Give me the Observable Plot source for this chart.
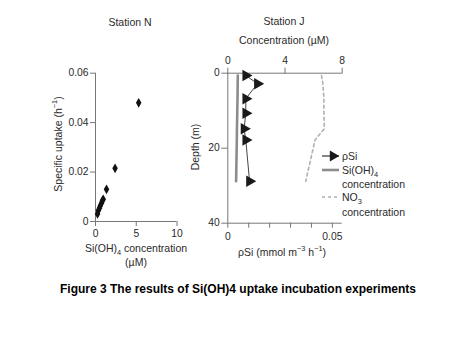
<!DOCTYPE html>
<html>
<head>
<meta charset="utf-8">
<script src="https://cdn.jsdelivr.net/npm/d3@7"></script>
<script src="https://cdn.jsdelivr.net/npm/@observablehq/plot@0.6"></script>
<style>
  body { margin: 0; background: #fff; }
  #root { position: relative; width: 474px; height: 355px; overflow: hidden; background: #fff;
          font-family: "Liberation Sans", Arial, Helvetica, sans-serif; color: #2a2a2a; }
  #root > svg, #root > figure { position: absolute; left: 0; top: 0; margin: 0; }
  .t { position: absolute; white-space: nowrap; transform: translate(-50%, -50%); font-size: 10px; line-height: 1; }
  .l { position: absolute; white-space: nowrap; transform: translate(0, -50%); font-size: 10.5px; line-height: 1; }
  .rot { transform: translate(-50%, -50%) rotate(-90deg); }
  sup, sub { font-size: 70%; line-height: 0; }
</style>
</head>
<body>
<div id="root"></div>
<script>
// ---------- Data ----------
// Station N: specific uptake vs Si(OH)4 concentration
const siConcN = [0.25, 0.35, 0.5, 0.6, 0.75, 0.85, 0.95, 1.35, 2.4, 5.3];
const uptakeN = [0.003, 0.0045, 0.0055, 0.0065, 0.0075, 0.0085, 0.009, 0.013, 0.0215, 0.048];
const ticksNx = [0, 5, 10];
const ticksNy = [0, 0.02, 0.04, 0.06];

// Station J: depth profiles
const depthJ = [0.6, 2.8, 6.8, 10.7, 14.8, 17.8, 28.8];
const rhoSiJ = [0.0086, 0.0142, 0.0086, 0.0086, 0.0078, 0.0086, 0.0104];
const siOH4J = [0.70, 0.69, 0.68, 0.66, 0.64, 0.63, 0.58];
const no3J   = [6.55, 6.65, 6.72, 6.72, 6.75, 6.10, 5.45];
const ticksDepth = [0, 20, 40];
const ticksConc = [0, 4, 8];
const ticksRho = [0, 0.01, 0.02, 0.03, 0.04, 0.05];

const dataN = siConcN.map((x, i) => ({x, y: uptakeN[i]}));
const dataJ = depthJ.map((d, i) => ({depth: d, rho: rhoSiJ[i], si: siOH4J[i], no3: no3J[i]}));

const root = document.getElementById("root");
const font = '"Liberation Sans", Arial, Helvetica, sans-serif';
const axisGray = "#777";
const baseStyle = {background: "transparent", fontFamily: font, fontSize: "10.3px", color: "#2a2a2a", overflow: "visible"};

// ---------- Station N ----------
const plotN = Plot.plot({
  width: 474, height: 355,
  marginLeft: 95, marginRight: 297.5, marginTop: 72.7, marginBottom: 134,
  style: baseStyle,
  x: {domain: [0, 10]},
  y: {domain: [0, 0.06]},
  marks: [
    Plot.ruleY([0], {stroke: axisGray}),
    Plot.ruleX([0], {stroke: axisGray}),
    Plot.axisX({ticks: ticksNx, tickSize: 5, tickPadding: 3, label: null, stroke: axisGray}),
    Plot.axisY({ticks: ticksNy, tickSize: 5, tickPadding: 2, label: null, stroke: axisGray,
                tickFormat: d => d === 0 ? "0" : d.toFixed(2)}),
    Plot.dot(dataN, {x: "x", y: "y", symbol: "diamond", fill: "#111", stroke: "none", r: 2.9})
  ]
});
root.appendChild(plotN);

// ---------- Station J: concentration (top axis) ----------
const mJ = {marginLeft: 227.3, marginRight: 132.3, marginTop: 72.7, marginBottom: 132.3};
const plotConc = Plot.plot({
  width: 474, height: 355, ...mJ,
  style: baseStyle,
  x: {domain: [0, 8]},
  y: {domain: [0, 40], reverse: true, axis: null},
  marks: [
    Plot.axisX({anchor: "top", ticks: ticksConc, tickSize: 6, tickPadding: 3, label: null, stroke: axisGray}),
    Plot.line(dataJ, {x: "si", y: "depth", stroke: "#8c8c8c", strokeWidth: 2.6}),
    Plot.line(dataJ, {x: "no3", y: "depth", stroke: "#b0b0b0", strokeWidth: 1.6, strokeDasharray: "3,3"})
  ]
});
root.appendChild(plotConc);

// ---------- Station J: rho Si (bottom axis) ----------
const plotRho = Plot.plot({
  width: 474, height: 355, ...mJ,
  style: baseStyle,
  x: {domain: [0, 0.0547]},
  y: {domain: [0, 40], reverse: true},
  marks: [
    Plot.ruleX([0], {stroke: axisGray}),
    Plot.ruleY([0, 40], {stroke: axisGray}),
    Plot.axisY({ticks: ticksDepth, tickSize: 6, tickPadding: 2, label: null, stroke: axisGray}),
    Plot.axisX({ticks: ticksRho, tickSize: 5, tickPadding: 4, label: null, stroke: axisGray,
                tickFormat: d => d === 0 ? "0" : (Math.abs(d - 0.05) < 1e-9 ? "0.05" : "")}),
    Plot.line(dataJ, {x: "rho", y: "depth", stroke: "#444", strokeWidth: 1}),
    Plot.dot(dataJ, {x: "rho", y: "depth", symbol: "triangle", rotate: 90, fill: "#1a1a1a", stroke: "none", r: 4.3})
  ]
});
root.appendChild(plotRho);

// ---------- Text ----------
function text(cls, x, y, html, size) {
  const d = document.createElement("div");
  d.className = cls;
  d.style.left = x + "px";
  d.style.top = y + "px";
  if (size) d.style.fontSize = size + "px";
  d.innerHTML = html;
  root.appendChild(d);
  return d;
}
text("t", 130, 22, "Station N", 10.5);
text("t", 284, 21, "Station J", 10.5);
text("t", 284, 40, "Concentration (µM)", 10.5);
text("t rot", 58, 144, "Specific uptake (h<sup>−1</sup>)", 10.5);
text("t rot", 195, 147, "Depth (m)", 10.5);
text("t", 136, 247.5, "Si(OH)<sub>4</sub> concentration", 10.5);
text("t", 136, 262, "(µM)", 10.5);
text("t", 282, 252, "ρSi (mmol m<sup>−3</sup> h<sup>−1</sup>)", 10.5);

// Legend
const leg = d3.create("svg").attr("width", 474).attr("height", 355)
  .style("position", "absolute").style("left", 0).style("top", 0);
leg.append("line").attr("x1", 322).attr("x2", 339).attr("y1", 156).attr("y2", 156).attr("stroke", "#333").attr("stroke-width", 1.2);
leg.append("path").attr("d", d3.symbol(d3.symbolTriangle, 52)()).attr("transform", "translate(333,156) rotate(90)").attr("fill", "#1a1a1a");
leg.append("line").attr("x1", 322).attr("x2", 339).attr("y1", 170).attr("y2", 170).attr("stroke", "#8c8c8c").attr("stroke-width", 2.6);
leg.append("line").attr("x1", 322).attr("x2", 340).attr("y1", 197).attr("y2", 197).attr("stroke", "#b0b0b0").attr("stroke-width", 1.6).attr("stroke-dasharray", "3,3");
root.appendChild(leg.node());
text("l", 342, 156, "ρSi");
text("l", 342, 170, "Si(OH)<sub>4</sub>");
text("l", 342, 184, "concentration");
text("l", 342, 197, "NO<sub>3</sub>");
text("l", 342, 212, "concentration");

// Caption
const cap = text("t", 238, 289, "Figure 3 The results of Si(OH)4 uptake incubation experiments", 12);
cap.style.fontWeight = "bold";
cap.style.color = "#000";
</script>
</body>
</html>
